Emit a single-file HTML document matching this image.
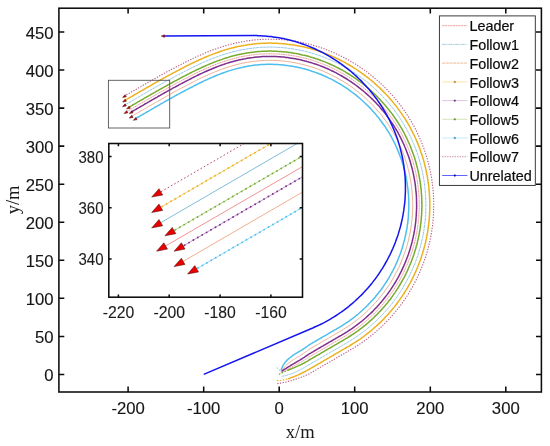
<!DOCTYPE html>
<html lang="en"><head><meta charset="utf-8"><title>Formation trajectories</title>
<style>html,body{margin:0;padding:0;background:#fff}svg{display:block}</style></head>
<body>
<svg width="550" height="446" viewBox="0 0 550 446">
<rect width="550" height="446" fill="#fff"/>
<g fill="none" stroke-linejoin="round" stroke-linecap="butt">
<path d="M280.6,373.0 L281.3,372.6 L282.0,372.2 L282.7,371.8 L283.4,371.4 L284.1,371.0 L284.8,370.7 L285.5,370.3 L286.2,369.9 L286.9,369.6 L287.6,369.2 L288.3,368.8 L289.0,368.4 L289.7,368.1 L290.4,367.7 L291.1,367.3 L291.8,367.0 L292.5,366.6 L293.2,366.2 L293.9,365.9 L294.6,365.5 L295.3,365.1 L296.0,364.7 L296.7,364.4 L297.4,364.0 L298.1,363.6 L298.8,363.2 L299.5,362.8 L300.2,362.5 L300.9,362.1 L301.6,361.7 L302.2,361.3 L302.9,360.9 L303.6,360.5 L304.3,360.1 L305.0,359.6 L305.6,359.2 L306.3,358.8 L307.0,358.4 L307.7,357.9 L308.7,357.2 L309.8,356.6 L310.9,356.0 L312.0,355.3 L313.1,354.7 L314.2,354.1 L315.3,353.4 L316.4,352.8 L317.5,352.1 L318.6,351.5 L319.6,350.9 L320.7,350.2 L321.8,349.6 L322.9,349.0 L324.0,348.3 L325.1,347.7 L326.2,347.1 L327.3,346.4 L328.4,345.8 L329.5,345.2 L330.6,344.5 L331.7,343.9 L332.8,343.2 L333.9,342.6 L335.0,342.0 L336.0,341.3 L337.1,340.7 L338.2,340.1 L339.3,339.4 L340.4,338.8 L341.5,338.2 L342.6,337.5 L343.7,336.9 L345.4,335.9 L347.1,334.8 L348.8,333.8 L350.5,332.7 L352.1,331.6 L353.8,330.5 L355.4,329.3 L357.0,328.2 L358.6,327.0 L360.2,325.8 L361.8,324.5 L363.3,323.3 L364.8,322.0 L366.4,320.7 L367.9,319.4 L369.3,318.1 L370.8,316.7 L372.3,315.4 L373.7,314.0 L375.1,312.6 L376.5,311.2 L377.9,309.7 L379.2,308.3 L380.6,306.8 L381.9,305.3 L383.2,303.8 L384.4,302.2 L385.7,300.7 L386.9,299.1 L388.2,297.5 L389.4,295.9 L390.5,294.3 L391.7,292.7 L392.8,291.1 L393.9,289.4 L395.0,287.7 L396.1,286.0 L397.1,284.3 L398.2,282.6 L399.2,280.9 L400.1,279.2 L401.1,277.4 L402.0,275.6 L402.9,273.9 L403.8,272.1 L404.7,270.3 L405.5,268.5 L406.3,266.6 L407.1,264.8 L407.9,262.9 L408.6,261.1 L409.3,259.2 L410.0,257.4 L410.7,255.5 L411.4,253.6 L412.0,251.7 L412.6,249.8 L413.1,247.9 L413.7,245.9 L414.2,244.0 L414.7,242.1 L415.2,240.1 L415.6,238.2 L416.0,236.2 L416.4,234.3 L416.8,232.3 L417.1,230.3 L417.5,228.3 L417.7,226.4 L418.0,224.4 L418.2,222.4 L418.5,220.4 L418.6,218.4 L418.8,216.4 L418.9,214.4 L419.0,212.4 L419.1,210.4 L419.2,208.4 L419.2,206.4 L419.2,204.4 L419.2,202.4 L419.2,200.4 L419.1,198.4 L419.0,196.4 L418.9,194.4 L418.7,192.4 L418.5,190.4 L418.3,188.5 L418.1,186.5 L417.8,184.5 L417.6,182.5 L417.2,180.5 L416.9,178.6 L416.6,176.6 L416.2,174.6 L415.8,172.7 L415.3,170.7 L414.9,168.8 L414.4,166.8 L413.9,164.9 L413.3,163.0 L412.8,161.1 L412.2,159.2 L411.6,157.2 L410.9,155.4 L410.2,153.5 L409.6,151.6 L408.8,149.7 L408.1,147.9 L407.3,146.0 L406.5,144.2 L405.7,142.4 L404.9,140.6 L404.0,138.8 L403.1,137.0 L402.2,135.2 L401.3,133.4 L400.3,131.7 L399.4,129.9 L398.4,128.2 L397.3,126.5 L396.3,124.8 L395.2,123.1 L394.1,121.5 L393.0,119.8 L391.9,118.2 L390.7,116.6 L389.5,115.0 L388.3,113.4 L387.1,111.8 L385.9,110.2 L384.6,108.7 L383.3,107.2 L382.0,105.7 L380.7,104.2 L379.4,102.7 L378.0,101.3 L376.6,99.8 L375.2,98.4 L373.8,97.0 L372.4,95.6 L370.9,94.3 L369.5,92.9 L368.0,91.6 L366.5,90.3 L365.0,89.0 L363.5,87.8 L361.9,86.5 L360.3,85.3 L358.8,84.1 L357.2,82.9 L355.6,81.8 L353.9,80.6 L352.3,79.5 L350.7,78.4 L349.0,77.3 L347.3,76.3 L345.6,75.2 L343.9,74.2 L342.2,73.2 L340.5,72.3 L338.7,71.3 L337.0,70.4 L335.2,69.5 L333.5,68.6 L331.7,67.8 L329.9,66.9 L328.1,66.1 L326.2,65.4 L324.4,64.6 L322.6,63.9 L320.7,63.2 L318.9,62.5 L317.0,61.8 L315.1,61.2 L313.3,60.6 L311.4,60.0 L309.5,59.4 L307.6,58.9 L305.7,58.4 L303.7,57.9 L301.8,57.5 L299.9,57.0 L297.9,56.6 L296.0,56.2 L294.1,55.9 L292.1,55.6 L290.2,55.3 L288.2,55.0 L286.2,54.8 L284.3,54.5 L282.3,54.3 L280.3,54.2 L278.4,54.1 L276.4,53.9 L274.4,53.9 L272.4,53.8 L270.5,53.8 L268.5,53.8 L266.5,53.8 L264.5,53.9 L262.6,54.0 L260.6,54.1 L258.6,54.3 L256.7,54.4 L254.7,54.6 L252.8,54.9 L250.8,55.1 L248.9,55.4 L246.9,55.7 L245.0,56.1 L243.0,56.4 L241.1,56.8 L239.2,57.2 L237.3,57.7 L235.4,58.2 L233.5,58.7 L231.6,59.2 L229.7,59.7 L227.8,60.3 L225.9,60.9 L224.0,61.5 L222.2,62.1 L220.3,62.7 L218.5,63.4 L216.6,64.1 L214.8,64.8 L213.0,65.5 L211.2,66.3 L209.4,67.1 L207.6,67.8 L205.8,68.6 L204.0,69.4 L202.2,70.2 L200.4,71.1 L198.6,71.9 L196.9,72.7 L195.1,73.6 L193.3,74.5 L192.2,75.1 L191.0,75.7 L189.8,76.3 L188.7,76.9 L187.5,77.5 L186.3,78.1 L185.2,78.7 L184.0,79.3 L182.9,79.9 L181.7,80.5 L180.5,81.1 L179.4,81.7 L178.2,82.3 L177.1,83.0 L175.9,83.6 L174.8,84.2 L173.6,84.8 L172.5,85.4 L171.3,86.1 L170.2,86.7 L169.1,87.3 L167.9,88.0 L166.8,88.6 L165.6,89.2 L164.5,89.9 L163.3,90.5 L162.2,91.2 L161.1,91.8 L159.9,92.4 L158.8,93.1 L157.7,93.7 L156.5,94.4 L155.4,95.0 L154.3,95.7 L153.1,96.3 L152.0,97.0 L150.9,97.6 L149.7,98.3 L148.6,98.9 L147.5,99.6 L146.3,100.2 L145.2,100.9 L144.1,101.5 L142.9,102.2 L141.8,102.9 L140.7,103.5 L139.6,104.2 L138.4,104.8 L137.3,105.5 L136.2,106.1 L135.0,106.8 L133.9,107.5 L132.8,108.1 L131.7,108.8 L130.5,109.4 L129.4,110.1 L128.3,110.7 L127.1,111.4 L126.0,112.1" stroke="#ec8c8c" stroke-width="0.9" stroke-dasharray="2,0.5"/>
<path d="M281.7,376.3 L282.4,376.2 L283.1,376.1 L283.9,376.0 L284.6,375.8 L285.3,375.7 L286.0,375.5 L286.7,375.3 L287.4,375.1 L288.1,374.9 L288.8,374.7 L289.4,374.5 L290.1,374.2 L290.8,374.0 L291.5,373.8 L292.2,373.5 L292.8,373.2 L293.5,372.9 L294.2,372.7 L294.8,372.4 L295.5,372.1 L296.2,371.8 L296.8,371.5 L297.5,371.1 L298.1,370.8 L298.8,370.5 L299.4,370.2 L300.1,369.8 L300.7,369.5 L301.4,369.1 L302.0,368.8 L302.6,368.4 L303.3,368.1 L303.9,367.7 L304.5,367.4 L305.2,367.0 L305.8,366.7 L306.4,366.3 L307.0,365.9 L307.7,365.6 L308.8,364.9 L309.9,364.3 L310.9,363.7 L312.0,363.0 L313.1,362.4 L314.2,361.8 L315.3,361.1 L316.4,360.5 L317.5,359.9 L318.6,359.2 L319.7,358.6 L320.8,357.9 L321.9,357.3 L323.0,356.7 L324.1,356.0 L325.2,355.4 L326.2,354.8 L327.3,354.1 L328.4,353.5 L329.5,352.9 L330.6,352.2 L331.7,351.6 L332.8,351.0 L333.9,350.3 L335.0,349.7 L336.1,349.0 L337.2,348.4 L338.3,347.8 L339.4,347.1 L340.5,346.5 L341.6,345.9 L342.6,345.2 L343.7,344.6 L344.8,344.0 L345.9,343.3 L347.0,342.7 L348.8,341.6 L350.6,340.6 L352.3,339.4 L354.1,338.3 L355.8,337.2 L357.5,336.0 L359.2,334.8 L360.9,333.6 L362.6,332.3 L364.2,331.1 L365.9,329.8 L367.5,328.5 L369.1,327.2 L370.7,325.8 L372.2,324.5 L373.8,323.1 L375.3,321.7 L376.8,320.2 L378.3,318.8 L379.8,317.3 L381.3,315.8 L382.7,314.3 L384.1,312.8 L385.5,311.2 L386.9,309.7 L388.2,308.1 L389.6,306.5 L390.9,304.9 L392.2,303.3 L393.4,301.6 L394.7,299.9 L395.9,298.3 L397.1,296.6 L398.3,294.8 L399.5,293.1 L400.6,291.4 L401.7,289.6 L402.8,287.8 L403.9,286.0 L404.9,284.2 L405.9,282.4 L406.9,280.6 L407.9,278.7 L408.9,276.9 L409.8,275.0 L410.7,273.1 L411.6,271.2 L412.4,269.3 L413.2,267.4 L414.0,265.5 L414.8,263.6 L415.6,261.6 L416.3,259.7 L417.0,257.7 L417.7,255.7 L418.3,253.7 L418.9,251.7 L419.5,249.7 L420.1,247.7 L420.6,245.7 L421.1,243.7 L421.6,241.7 L422.1,239.6 L422.5,237.6 L423.0,235.5 L423.3,233.5 L423.7,231.4 L424.0,229.4 L424.3,227.3 L424.6,225.2 L424.8,223.2 L425.1,221.1 L425.3,219.0 L425.4,216.9 L425.6,214.8 L425.7,212.8 L425.8,210.7 L425.8,208.6 L425.9,206.5 L425.9,204.4 L425.8,202.3 L425.8,200.2 L425.7,198.1 L425.6,196.1 L425.5,194.0 L425.3,191.9 L425.1,189.8 L424.9,187.7 L424.7,185.7 L424.4,183.6 L424.1,181.5 L423.8,179.5 L423.5,177.4 L423.1,175.3 L422.7,173.3 L422.3,171.2 L421.8,169.2 L421.3,167.2 L420.8,165.2 L420.3,163.1 L419.7,161.1 L419.1,159.1 L418.5,157.1 L417.9,155.1 L417.2,153.2 L416.5,151.2 L415.8,149.2 L415.0,147.3 L414.3,145.4 L413.5,143.4 L412.6,141.5 L411.8,139.6 L410.9,137.7 L410.0,135.8 L409.1,134.0 L408.1,132.1 L407.2,130.3 L406.2,128.4 L405.1,126.6 L404.1,124.8 L403.0,123.0 L401.9,121.3 L400.8,119.5 L399.7,117.8 L398.5,116.1 L397.3,114.3 L396.1,112.7 L394.9,111.0 L393.6,109.3 L392.3,107.7 L391.1,106.1 L389.7,104.4 L388.4,102.9 L387.0,101.3 L385.7,99.7 L384.3,98.2 L382.8,96.7 L381.4,95.2 L380.0,93.7 L378.5,92.2 L377.0,90.8 L375.5,89.4 L373.9,88.0 L372.4,86.6 L370.8,85.2 L369.3,83.9 L367.7,82.6 L366.0,81.3 L364.4,80.0 L362.8,78.8 L361.1,77.5 L359.4,76.3 L357.7,75.1 L356.0,73.9 L354.3,72.8 L352.6,71.7 L350.8,70.6 L349.1,69.5 L347.3,68.4 L345.5,67.4 L343.7,66.4 L341.9,65.4 L340.0,64.4 L338.2,63.5 L336.3,62.6 L334.5,61.7 L332.6,60.8 L330.7,60.0 L328.8,59.2 L326.9,58.4 L325.0,57.6 L323.1,56.9 L321.1,56.2 L319.2,55.5 L317.2,54.8 L315.2,54.2 L313.3,53.6 L311.3,53.0 L309.3,52.4 L307.3,51.9 L305.3,51.4 L303.3,50.9 L301.3,50.5 L299.3,50.1 L297.2,49.7 L295.2,49.3 L293.2,49.0 L291.1,48.6 L289.1,48.4 L287.0,48.1 L285.0,47.9 L282.9,47.7 L280.9,47.5 L278.8,47.4 L276.8,47.3 L274.7,47.2 L272.6,47.1 L270.6,47.1 L268.5,47.1 L266.4,47.1 L264.4,47.2 L262.3,47.3 L260.3,47.4 L258.2,47.6 L256.2,47.8 L254.1,48.0 L252.1,48.2 L250.0,48.5 L248.0,48.8 L246.0,49.1 L243.9,49.5 L241.9,49.8 L239.9,50.2 L237.9,50.7 L235.9,51.1 L233.9,51.6 L231.9,52.1 L229.9,52.7 L228.0,53.2 L226.0,53.8 L224.0,54.4 L222.1,55.1 L220.1,55.7 L218.2,56.4 L216.3,57.1 L214.4,57.8 L212.4,58.6 L210.5,59.3 L208.6,60.1 L206.8,60.9 L204.9,61.7 L203.0,62.5 L201.1,63.4 L199.3,64.2 L197.4,65.1 L195.5,66.0 L193.7,66.9 L191.8,67.8 L190.0,68.7 L188.9,69.3 L187.7,69.9 L186.6,70.4 L185.5,71.0 L184.3,71.6 L183.2,72.2 L182.1,72.8 L181.0,73.4 L179.8,73.9 L178.7,74.5 L177.6,75.1 L176.5,75.7 L175.3,76.3 L174.2,76.9 L173.1,77.5 L172.0,78.1 L170.9,78.7 L169.8,79.3 L168.6,79.9 L167.5,80.5 L166.4,81.2 L165.3,81.8 L164.2,82.4 L163.1,83.0 L162.0,83.6 L160.9,84.2 L159.8,84.9 L158.7,85.5 L157.6,86.1 L156.4,86.7 L155.3,87.4 L154.2,88.0 L153.1,88.6 L152.0,89.2 L150.9,89.9 L149.8,90.5 L148.7,91.1 L147.6,91.8 L146.5,92.4 L145.4,93.0 L144.3,93.7 L143.2,94.3 L142.1,94.9 L141.0,95.6 L139.9,96.2 L138.8,96.9 L137.8,97.5 L136.7,98.1 L135.6,98.8 L134.5,99.4 L133.4,100.0 L132.3,100.7 L131.2,101.3 L130.1,102.0 L129.0,102.6 L127.9,103.2 L126.8,103.9 L125.7,104.5 L124.6,105.2" stroke="#86bfe3" stroke-width="0.9" stroke-dasharray="3,0.5"/>
<path d="M281.1,371.9 L281.5,371.1 L282.0,370.4 L282.5,369.6 L283.0,368.9 L283.5,368.2 L284.1,367.5 L284.6,366.8 L285.2,366.2 L285.8,365.6 L286.5,365.0 L287.1,364.4 L287.8,363.8 L288.5,363.2 L289.2,362.7 L289.9,362.2 L290.6,361.6 L291.3,361.1 L292.0,360.6 L292.8,360.1 L293.5,359.6 L294.3,359.1 L295.0,358.7 L295.8,358.2 L296.6,357.7 L297.3,357.3 L298.1,356.8 L298.9,356.3 L299.6,355.9 L300.4,355.4 L301.2,354.9 L301.9,354.4 L302.7,354.0 L303.4,353.5 L304.2,353.0 L304.9,352.5 L305.6,352.0 L306.4,351.5 L307.1,350.9 L307.7,350.4 L308.7,349.6 L309.8,349.0 L310.9,348.4 L312.0,347.7 L313.1,347.1 L314.2,346.4 L315.3,345.8 L316.4,345.2 L317.5,344.5 L318.6,343.9 L319.7,343.3 L320.8,342.6 L321.8,342.0 L322.9,341.4 L324.0,340.7 L325.1,340.1 L326.2,339.5 L327.3,338.8 L328.4,338.2 L329.5,337.5 L330.6,336.9 L331.7,336.3 L332.8,335.6 L333.9,335.0 L335.0,334.4 L336.1,333.7 L337.1,333.1 L338.2,332.5 L339.3,331.8 L340.4,331.2 L342.1,330.2 L343.7,329.2 L345.3,328.2 L346.9,327.2 L348.5,326.1 L350.1,325.1 L351.6,324.0 L353.2,322.8 L354.7,321.7 L356.2,320.6 L357.7,319.4 L359.2,318.2 L360.7,317.0 L362.1,315.7 L363.5,314.5 L365.0,313.2 L366.4,311.9 L367.8,310.6 L369.1,309.3 L370.5,307.9 L371.8,306.6 L373.1,305.2 L374.4,303.8 L375.7,302.4 L377.0,300.9 L378.2,299.5 L379.4,298.0 L380.6,296.6 L381.8,295.1 L383.0,293.5 L384.1,292.0 L385.2,290.5 L386.3,288.9 L387.4,287.3 L388.5,285.8 L389.5,284.2 L390.6,282.5 L391.6,280.9 L392.5,279.3 L393.5,277.6 L394.4,276.0 L395.3,274.3 L396.2,272.6 L397.1,270.9 L397.9,269.2 L398.8,267.4 L399.6,265.7 L400.4,264.0 L401.1,262.2 L401.8,260.4 L402.6,258.7 L403.2,256.9 L403.9,255.1 L404.5,253.3 L405.2,251.5 L405.8,249.7 L406.3,247.8 L406.9,246.0 L407.4,244.2 L407.9,242.3 L408.4,240.5 L408.8,238.6 L409.2,236.7 L409.6,234.9 L410.0,233.0 L410.4,231.1 L410.7,229.2 L411.0,227.3 L411.3,225.4 L411.5,223.5 L411.8,221.6 L412.0,219.7 L412.1,217.8 L412.3,215.9 L412.4,214.0 L412.5,212.1 L412.6,210.2 L412.7,208.3 L412.7,206.4 L412.7,204.5 L412.7,202.5 L412.6,200.6 L412.6,198.7 L412.5,196.8 L412.3,194.9 L412.2,193.0 L412.0,191.1 L411.8,189.2 L411.6,187.3 L411.4,185.4 L411.1,183.5 L410.8,181.6 L410.5,179.7 L410.1,177.8 L409.8,175.9 L409.4,174.1 L409.0,172.2 L408.5,170.3 L408.0,168.5 L407.6,166.6 L407.0,164.8 L406.5,163.0 L405.9,161.1 L405.4,159.3 L404.7,157.5 L404.1,155.7 L403.4,153.9 L402.8,152.1 L402.1,150.3 L401.3,148.6 L400.6,146.8 L399.8,145.1 L399.0,143.4 L398.2,141.6 L397.3,139.9 L396.4,138.2 L395.5,136.5 L394.6,134.9 L393.7,133.2 L392.7,131.5 L391.7,129.9 L390.7,128.3 L389.7,126.7 L388.7,125.1 L387.6,123.5 L386.5,121.9 L385.4,120.4 L384.3,118.9 L383.1,117.3 L381.9,115.8 L380.8,114.3 L379.6,112.9 L378.3,111.4 L377.1,110.0 L375.8,108.6 L374.5,107.2 L373.2,105.8 L371.9,104.4 L370.6,103.0 L369.2,101.7 L367.9,100.4 L366.5,99.1 L365.1,97.8 L363.7,96.5 L362.2,95.3 L360.8,94.1 L359.3,92.9 L357.8,91.7 L356.3,90.5 L354.8,89.4 L353.3,88.2 L351.8,87.1 L350.2,86.0 L348.7,85.0 L347.1,83.9 L345.5,82.9 L343.9,81.9 L342.3,80.9 L340.6,79.9 L339.0,79.0 L337.3,78.0 L335.7,77.1 L334.0,76.3 L332.3,75.4 L330.6,74.6 L328.9,73.7 L327.2,72.9 L325.5,72.2 L323.7,71.4 L322.0,70.7 L320.2,70.0 L318.4,69.3 L316.7,68.7 L314.9,68.0 L313.1,67.4 L311.3,66.9 L309.5,66.3 L307.7,65.8 L305.8,65.3 L304.0,64.8 L302.2,64.3 L300.3,63.9 L298.5,63.5 L296.6,63.1 L294.8,62.7 L292.9,62.4 L291.1,62.1 L289.2,61.8 L287.3,61.5 L285.4,61.3 L283.6,61.1 L281.7,60.9 L279.8,60.7 L277.9,60.6 L276.0,60.5 L274.1,60.4 L272.3,60.4 L270.4,60.4 L268.5,60.4 L266.6,60.4 L264.7,60.5 L262.8,60.6 L260.9,60.7 L259.1,60.8 L257.2,61.0 L255.3,61.2 L253.4,61.4 L251.6,61.7 L249.7,61.9 L247.8,62.2 L246.0,62.6 L244.1,62.9 L242.3,63.3 L240.4,63.7 L238.6,64.1 L236.8,64.6 L235.0,65.1 L233.2,65.6 L231.3,66.1 L229.6,66.6 L227.8,67.2 L226.0,67.8 L224.2,68.4 L222.4,69.0 L220.7,69.6 L218.9,70.3 L217.2,71.0 L215.4,71.7 L213.7,72.4 L212.0,73.1 L210.2,73.9 L208.5,74.6 L206.8,75.4 L205.1,76.1 L203.4,76.9 L201.7,77.7 L200.0,78.5 L198.3,79.4 L196.6,80.2 L195.5,80.8 L194.3,81.4 L193.2,81.9 L192.1,82.5 L190.9,83.1 L189.8,83.7 L188.7,84.3 L187.6,84.8 L186.4,85.4 L185.3,86.0 L184.2,86.6 L183.1,87.2 L181.9,87.8 L180.8,88.4 L179.7,89.0 L178.6,89.6 L177.5,90.2 L176.4,90.8 L175.2,91.4 L174.1,92.0 L173.0,92.6 L171.9,93.3 L170.8,93.9 L169.7,94.5 L168.6,95.1 L167.5,95.7 L166.4,96.3 L165.3,97.0 L164.2,97.6 L163.1,98.2 L162.0,98.8 L160.9,99.5 L159.8,100.1 L158.7,100.7 L157.6,101.4 L156.5,102.0 L155.4,102.6 L154.3,103.3 L153.2,103.9 L152.1,104.5 L151.0,105.2 L149.9,105.8 L148.8,106.4 L147.7,107.1 L146.6,107.7 L145.5,108.3 L144.4,109.0 L143.3,109.6 L142.2,110.2 L141.1,110.9 L140.0,111.5 L138.9,112.2 L137.8,112.8 L136.7,113.4 L135.6,114.1 L134.5,114.7 L133.4,115.3 L132.3,116.0 L131.2,116.6" stroke="#eaa98a" stroke-width="0.95" stroke-dasharray="none"/>
<path d="M276.7,380.7 L277.5,380.7 L278.4,380.6 L279.2,380.6 L280.1,380.5 L280.9,380.4 L281.7,380.2 L282.6,380.1 L283.4,379.9 L284.2,379.8 L285.0,379.6 L285.8,379.4 L286.6,379.2 L287.4,379.0 L288.2,378.7" stroke="#edb120" stroke-width="1.2" stroke-dasharray="1.6,1.5"/>
<path d="M288.2,378.7 L289.0,378.5 L289.8,378.2 L290.6,377.9 L291.4,377.6 L292.2,377.4 L293.0,377.0 L293.8,376.7 L294.5,376.4 L295.3,376.1 L296.1,375.8 L296.9,375.4 L297.6,375.1 L298.4,374.7 L299.2,374.4 L299.9,374.0 L300.7,373.6 L301.4,373.3 L302.2,372.9 L302.9,372.5 L303.7,372.1 L304.4,371.7 L305.2,371.4 L305.9,371.0 L306.7,370.6 L307.4,370.2 L308.5,369.6 L309.6,369.0 L310.7,368.4 L311.8,367.7 L312.9,367.1 L314.0,366.5 L315.1,365.8 L316.2,365.2 L317.3,364.6 L318.4,363.9 L319.5,363.3 L320.6,362.6 L321.7,362.0 L322.7,361.4 L323.8,360.7 L324.9,360.1 L326.0,359.5 L327.1,358.8 L328.2,358.2 L329.3,357.6 L330.4,356.9 L331.5,356.3 L332.6,355.7 L333.7,355.0 L334.8,354.4 L335.9,353.7 L337.0,353.1 L338.1,352.5 L339.1,351.8 L340.2,351.2 L341.3,350.6 L342.4,349.9 L343.5,349.3 L344.6,348.7 L345.7,348.0 L346.8,347.4 L347.9,346.7 L349.0,346.1 L350.8,345.0 L352.6,343.9 L354.4,342.8 L356.2,341.6 L358.0,340.5 L359.8,339.3 L361.5,338.0 L363.2,336.8 L364.9,335.5 L366.6,334.2 L368.3,332.9 L370.0,331.6 L371.6,330.2 L373.2,328.8 L374.8,327.4 L376.4,326.0 L378.0,324.6 L379.5,323.1 L381.1,321.6 L382.6,320.1 L384.1,318.6 L385.5,317.0 L387.0,315.5 L388.4,313.9 L389.8,312.3 L391.2,310.7 L392.6,309.0 L393.9,307.4 L395.3,305.7 L396.6,304.0 L397.8,302.3 L399.1,300.6 L400.3,298.8 L401.5,297.1 L402.7,295.3 L403.9,293.5 L405.0,291.7 L406.2,289.9 L407.3,288.1 L408.3,286.2 L409.4,284.3 L410.4,282.5 L411.4,280.6 L412.4,278.7 L413.3,276.8 L414.2,274.8 L415.1,272.9 L416.0,270.9 L416.8,269.0 L417.7,267.0 L418.5,265.0 L419.2,263.0 L420.0,261.0 L420.7,259.0 L421.4,257.0 L422.0,254.9 L422.7,252.9 L423.3,250.8 L423.9,248.8 L424.4,246.7 L425.0,244.7 L425.5,242.6 L425.9,240.5 L426.4,238.4 L426.8,236.3 L427.2,234.2 L427.6,232.1 L427.9,230.0 L428.2,227.9 L428.5,225.7 L428.8,223.6 L429.0,221.5 L429.2,219.3 L429.4,217.2 L429.5,215.1 L429.6,212.9 L429.7,210.8 L429.8,208.7 L429.8,206.5 L429.8,204.4 L429.8,202.2 L429.7,200.1 L429.6,198.0 L429.5,195.8 L429.4,193.7 L429.2,191.6 L429.0,189.4 L428.8,187.3 L428.6,185.2 L428.3,183.0 L428.0,180.9 L427.7,178.8 L427.3,176.7 L426.9,174.6 L426.5,172.5 L426.1,170.4 L425.6,168.3 L425.1,166.2 L424.6,164.2 L424.1,162.1 L423.5,160.0 L422.9,158.0 L422.3,155.9 L421.6,153.9 L420.9,151.9 L420.2,149.9 L419.5,147.8 L418.7,145.9 L417.9,143.9 L417.1,141.9 L416.2,139.9 L415.4,138.0 L414.5,136.0 L413.5,134.1 L412.6,132.2 L411.6,130.3 L410.6,128.4 L409.6,126.5 L408.6,124.7 L407.5,122.8 L406.4,121.0 L405.3,119.2 L404.1,117.4 L402.9,115.6 L401.8,113.8 L400.5,112.1 L399.3,110.3 L398.0,108.6 L396.8,106.9 L395.4,105.2 L394.1,103.6 L392.8,101.9 L391.4,100.3 L390.0,98.7 L388.6,97.1 L387.2,95.5 L385.7,94.0 L384.2,92.4 L382.7,90.9 L381.2,89.4 L379.7,87.9 L378.2,86.5 L376.6,85.1 L375.0,83.6 L373.4,82.2 L371.8,80.9 L370.1,79.5 L368.5,78.2 L366.8,76.9 L365.1,75.6 L363.4,74.3 L361.7,73.1 L360.0,71.9 L358.2,70.7 L356.5,69.5 L354.7,68.3 L352.9,67.2 L351.1,66.1 L349.3,65.0 L347.4,64.0 L345.6,62.9 L343.7,61.9 L341.8,60.9 L339.9,60.0 L338.0,59.0 L336.1,58.1 L334.2,57.2 L332.3,56.4 L330.3,55.5 L328.4,54.7 L326.4,53.9 L324.4,53.2 L322.4,52.4 L320.4,51.7 L318.4,51.1 L316.4,50.4 L314.4,49.8 L312.4,49.2 L310.3,48.6 L308.3,48.1 L306.2,47.6 L304.2,47.1 L302.1,46.6 L300.0,46.2 L298.0,45.8 L295.9,45.4 L293.8,45.1 L291.7,44.7 L289.6,44.4 L287.5,44.2 L285.4,43.9 L283.3,43.7 L281.2,43.6 L279.1,43.4 L277.0,43.3 L274.9,43.2 L272.7,43.2 L270.6,43.1 L268.5,43.1 L266.4,43.2 L264.3,43.2 L262.2,43.3 L260.1,43.5 L258.0,43.6 L255.9,43.8 L253.8,44.0 L251.7,44.3 L249.6,44.5 L247.5,44.8 L245.4,45.2 L243.3,45.5 L241.3,45.9 L239.2,46.3 L237.1,46.8 L235.1,47.3 L233.0,47.8 L231.0,48.3 L229.0,48.8 L226.9,49.4 L224.9,50.0 L222.9,50.6 L220.9,51.3 L218.9,52.0 L216.9,52.7 L215.0,53.4 L213.0,54.1 L211.0,54.9 L209.1,55.6 L207.1,56.5 L205.2,57.3 L203.3,58.1 L201.4,59.0 L199.4,59.8 L197.5,60.7 L195.6,61.6 L193.7,62.5 L191.8,63.4 L189.9,64.3 L188.0,65.3 L186.9,65.8 L185.8,66.4 L184.7,67.0 L183.6,67.5 L182.6,68.1 L181.5,68.7 L180.4,69.2 L179.3,69.8 L178.2,70.4 L177.1,70.9 L176.0,71.5 L174.9,72.1 L173.8,72.6 L172.7,73.2 L171.6,73.8 L170.6,74.4 L169.5,75.0 L168.4,75.6 L167.3,76.2 L166.2,76.7 L165.2,77.3 L164.1,77.9 L163.0,78.5 L161.9,79.1 L160.9,79.7 L159.8,80.3 L158.7,80.9 L157.6,81.5 L156.6,82.1 L155.5,82.7 L154.4,83.3 L153.3,83.9 L152.3,84.6 L151.2,85.2 L150.1,85.8 L149.1,86.4 L148.0,87.0 L146.9,87.6 L145.9,88.2 L144.8,88.8 L143.7,89.5 L142.7,90.1 L141.6,90.7 L140.5,91.3 L139.5,91.9 L138.4,92.5 L137.4,93.2 L136.3,93.8 L135.2,94.4 L134.2,95.0 L133.1,95.6 L132.0,96.3 L131.0,96.9 L129.9,97.5 L128.8,98.1 L127.8,98.7 L126.7,99.3 L125.6,100.0 L124.6,100.6" stroke="#edb120" stroke-width="1.5"/>
<path d="M281.6,371.3 L282.3,370.9 L282.9,370.4 L283.6,370.0 L284.2,369.5 L284.9,369.1 L285.5,368.7 L286.2,368.3 L286.8,367.8 L287.5,367.4 L288.2,367.0 L288.8,366.6 L289.5,366.2 L290.2,365.8 L290.8,365.4 L291.5,365.0 L292.2,364.6 L292.9,364.2 L293.5,363.8 L294.2,363.4 L294.9,363.0 L295.6,362.6 L296.2,362.2 L296.9,361.8 L297.6,361.4 L298.3,361.0 L298.9,360.6 L299.6,360.2 L300.3,359.8 L300.9,359.4 L301.6,359.0 L302.3,358.6 L302.9,358.1 L303.6,357.7 L304.2,357.3 L304.9,356.8 L305.5,356.4 L306.2,356.0 L306.8,355.5 L307.5,355.1 L308.5,354.3 L309.6,353.7 L310.7,353.1 L311.8,352.4 L312.9,351.8 L314.0,351.1 L315.1,350.5 L316.2,349.9 L317.3,349.2 L318.3,348.6 L319.4,348.0 L320.5,347.3 L321.6,346.7 L322.7,346.1 L323.8,345.4 L324.9,344.8 L326.0,344.2 L327.1,343.5 L328.2,342.9 L329.3,342.2 L330.4,341.6 L331.5,341.0 L332.6,340.3 L333.6,339.7 L334.7,339.1 L335.8,338.4 L336.9,337.8 L338.0,337.2 L339.1,336.5 L340.2,335.9 L341.3,335.3 L342.4,334.6 L344.1,333.6 L345.7,332.6 L347.4,331.6 L349.0,330.5 L350.7,329.4 L352.3,328.3 L353.9,327.2 L355.5,326.0 L357.0,324.9 L358.6,323.7 L360.1,322.5 L361.7,321.3 L363.2,320.0 L364.7,318.7 L366.1,317.5 L367.6,316.1 L369.0,314.8 L370.5,313.5 L371.9,312.1 L373.3,310.7 L374.6,309.3 L376.0,307.9 L377.3,306.5 L378.6,305.0 L379.9,303.6 L381.2,302.1 L382.4,300.6 L383.7,299.0 L384.9,297.5 L386.1,295.9 L387.3,294.4 L388.4,292.8 L389.6,291.2 L390.7,289.6 L391.8,287.9 L392.8,286.3 L393.9,284.6 L394.9,283.0 L395.9,281.3 L396.9,279.6 L397.9,277.9 L398.8,276.2 L399.7,274.4 L400.6,272.7 L401.5,270.9 L402.3,269.1 L403.1,267.4 L403.9,265.6 L404.7,263.8 L405.5,261.9 L406.2,260.1 L406.9,258.3 L407.6,256.5 L408.3,254.6 L408.9,252.7 L409.5,250.9 L410.1,249.0 L410.6,247.1 L411.2,245.2 L411.7,243.3 L412.2,241.4 L412.6,239.5 L413.1,237.6 L413.5,235.7 L413.9,233.8 L414.2,231.8 L414.6,229.9 L414.9,227.9 L415.2,226.0 L415.4,224.0 L415.7,222.1 L415.9,220.1 L416.0,218.2 L416.2,216.2 L416.3,214.3 L416.4,212.3 L416.5,210.3 L416.6,208.4 L416.6,206.4 L416.6,204.4 L416.6,202.5 L416.5,200.5 L416.5,198.5 L416.4,196.6 L416.3,194.6 L416.1,192.7 L415.9,190.7 L415.7,188.7 L415.5,186.8 L415.3,184.8 L415.0,182.9 L414.7,181.0 L414.3,179.0 L414.0,177.1 L413.6,175.2 L413.2,173.2 L412.8,171.3 L412.3,169.4 L411.9,167.5 L411.3,165.6 L410.8,163.7 L410.3,161.8 L409.7,159.9 L409.1,158.1 L408.5,156.2 L407.8,154.4 L407.1,152.5 L406.4,150.7 L405.7,148.9 L404.9,147.0 L404.2,145.2 L403.4,143.5 L402.5,141.7 L401.7,139.9 L400.8,138.1 L399.9,136.4 L399.0,134.7 L398.1,132.9 L397.1,131.2 L396.1,129.5 L395.1,127.9 L394.1,126.2 L393.0,124.5 L391.9,122.9 L390.8,121.3 L389.7,119.7 L388.6,118.1 L387.4,116.5 L386.2,114.9 L385.0,113.4 L383.8,111.9 L382.6,110.4 L381.3,108.9 L380.0,107.4 L378.8,105.9 L377.4,104.5 L376.1,103.1 L374.7,101.6 L373.4,100.3 L372.0,98.9 L370.6,97.5 L369.2,96.2 L367.7,94.9 L366.3,93.6 L364.8,92.3 L363.3,91.0 L361.8,89.8 L360.3,88.6 L358.7,87.4 L357.2,86.2 L355.6,85.0 L354.1,83.9 L352.5,82.8 L350.9,81.7 L349.2,80.6 L347.6,79.5 L346.0,78.5 L344.3,77.5 L342.6,76.5 L340.9,75.5 L339.2,74.6 L337.5,73.6 L335.8,72.7 L334.1,71.8 L332.3,71.0 L330.6,70.2 L328.8,69.3 L327.0,68.5 L325.2,67.8 L323.4,67.0 L321.6,66.3 L319.8,65.6 L318.0,64.9 L316.2,64.3 L314.3,63.7 L312.5,63.1 L310.6,62.5 L308.8,62.0 L306.9,61.4 L305.0,60.9 L303.1,60.5 L301.2,60.0 L299.3,59.6 L297.4,59.2 L295.5,58.8 L293.6,58.5 L291.7,58.2 L289.8,57.9 L287.8,57.6 L285.9,57.4 L284.0,57.1 L282.1,57.0 L280.1,56.8 L278.2,56.7 L276.2,56.6 L274.3,56.5 L272.4,56.4 L270.4,56.4 L268.5,56.4 L266.5,56.5 L264.6,56.5 L262.7,56.6 L260.7,56.7 L258.8,56.9 L256.9,57.0 L254.9,57.2 L253.0,57.5 L251.1,57.7 L249.2,58.0 L247.3,58.3 L245.4,58.7 L243.5,59.0 L241.6,59.4 L239.7,59.8 L237.8,60.3 L235.9,60.7 L234.1,61.2 L232.2,61.7 L230.3,62.2 L228.5,62.8 L226.6,63.4 L224.8,64.0 L223.0,64.6 L221.2,65.2 L219.4,65.9 L217.5,66.6 L215.8,67.3 L214.0,68.0 L212.2,68.7 L210.4,69.5 L208.6,70.2 L206.9,71.0 L205.1,71.8 L203.3,72.6 L201.6,73.4 L199.8,74.2 L198.1,75.0 L196.4,75.9 L194.6,76.8 L193.5,77.3 L192.4,77.9 L191.3,78.5 L190.2,79.0 L189.1,79.6 L188.1,80.1 L187.0,80.7 L185.9,81.3 L184.8,81.8 L183.7,82.4 L182.6,83.0 L181.5,83.6 L180.4,84.1 L179.3,84.7 L178.3,85.3 L177.2,85.9 L176.1,86.5 L175.0,87.1 L173.9,87.6 L172.8,88.2 L171.8,88.8 L170.7,89.4 L169.6,90.0 L168.5,90.6 L167.5,91.2 L166.4,91.8 L165.3,92.4 L164.2,93.0 L163.2,93.6 L162.1,94.2 L161.0,94.8 L160.0,95.4 L158.9,96.0 L157.8,96.7 L156.8,97.3 L155.7,97.9 L154.6,98.5 L153.6,99.1 L152.5,99.7 L151.4,100.3 L150.4,100.9 L149.3,101.6 L148.2,102.2 L147.2,102.8 L146.1,103.4 L145.0,104.0 L144.0,104.6 L142.9,105.3 L141.9,105.9 L140.8,106.5 L139.7,107.1 L138.7,107.7 L137.6,108.3 L136.5,109.0 L135.5,109.6 L134.4,110.2 L133.3,110.8 L132.3,111.4 L131.2,112.1" stroke="#7e2f8e" stroke-width="1.5"/>
<path d="M278.9,374.5 L279.6,374.1 L280.4,373.7 L281.1,373.4 L281.8,373.0 L282.6,372.6 L283.3,372.3 L284.1,371.9 L284.8,371.6 L285.5,371.3 L286.3,370.9 L287.1,370.6" stroke="#77ac30" stroke-width="1.2" stroke-dasharray="1.6,1.5"/>
<path d="M287.1,370.6 L287.8,370.3 L288.6,370.0 L289.3,369.6 L290.1,369.3 L290.8,369.0 L291.6,368.7 L292.3,368.4 L293.1,368.0 L293.9,367.7 L294.6,367.4 L295.4,367.1 L296.1,366.7 L296.9,366.4 L297.6,366.1 L298.4,365.7 L299.1,365.4 L299.9,365.1 L300.6,364.7 L301.4,364.4 L302.1,364.0 L302.8,363.6 L303.6,363.3 L304.3,362.9 L305.0,362.5 L305.7,362.1 L306.5,361.7 L307.2,361.3 L307.9,360.9 L308.9,360.2 L310.0,359.5 L311.1,358.9 L312.2,358.3 L313.3,357.6 L314.4,357.0 L315.5,356.4 L316.6,355.7 L317.7,355.1 L318.8,354.5 L319.9,353.8 L321.0,353.2 L322.1,352.5 L323.2,351.9 L324.2,351.3 L325.3,350.6 L326.4,350.0 L327.5,349.4 L328.6,348.7 L329.7,348.1 L330.8,347.5 L331.9,346.8 L333.0,346.2 L334.1,345.6 L335.2,344.9 L336.3,344.3 L337.4,343.6 L338.5,343.0 L339.6,342.4 L340.6,341.7 L341.7,341.1 L342.8,340.5 L343.9,339.8 L345.0,339.2 L346.8,338.2 L348.5,337.1 L350.2,336.0 L351.9,334.9 L353.6,333.8 L355.3,332.7 L356.9,331.5 L358.6,330.3 L360.2,329.1 L361.8,327.9 L363.4,326.6 L365.0,325.4 L366.5,324.1 L368.1,322.8 L369.6,321.4 L371.1,320.1 L372.6,318.7 L374.1,317.3 L375.5,315.9 L377.0,314.5 L378.4,313.0 L379.8,311.5 L381.2,310.1 L382.5,308.6 L383.9,307.0 L385.2,305.5 L386.5,303.9 L387.8,302.4 L389.0,300.8 L390.3,299.2 L391.5,297.5 L392.7,295.9 L393.8,294.2 L395.0,292.6 L396.1,290.9 L397.2,289.2 L398.3,287.5 L399.4,285.7 L400.4,284.0 L401.4,282.2 L402.4,280.5 L403.4,278.7 L404.4,276.9 L405.3,275.1 L406.2,273.2 L407.1,271.4 L407.9,269.6 L408.7,267.7 L409.5,265.8 L410.3,264.0 L411.1,262.1 L411.8,260.2 L412.5,258.3 L413.2,256.4 L413.9,254.4 L414.5,252.5 L415.1,250.6 L415.7,248.6 L416.2,246.6 L416.8,244.7 L417.3,242.7 L417.7,240.7 L418.2,238.7 L418.6,236.8 L419.0,234.8 L419.4,232.8 L419.7,230.8 L420.1,228.7 L420.4,226.7 L420.6,224.7 L420.9,222.7 L421.1,220.7 L421.3,218.6 L421.4,216.6 L421.6,214.6 L421.7,212.6 L421.8,210.5 L421.8,208.5 L421.9,206.5 L421.9,204.4 L421.8,202.4 L421.8,200.3 L421.7,198.3 L421.6,196.3 L421.5,194.2 L421.3,192.2 L421.2,190.2 L420.9,188.2 L420.7,186.1 L420.5,184.1 L420.2,182.1 L419.9,180.1 L419.5,178.1 L419.1,176.1 L418.8,174.1 L418.3,172.1 L417.9,170.1 L417.4,168.1 L416.9,166.2 L416.4,164.2 L415.9,162.2 L415.3,160.3 L414.7,158.3 L414.1,156.4 L413.4,154.5 L412.7,152.6 L412.0,150.7 L411.3,148.8 L410.6,146.9 L409.8,145.0 L409.0,143.1 L408.1,141.3 L407.3,139.4 L406.4,137.6 L405.5,135.8 L404.6,134.0 L403.6,132.2 L402.7,130.4 L401.7,128.6 L400.6,126.9 L399.6,125.1 L398.5,123.4 L397.4,121.7 L396.3,120.0 L395.2,118.3 L394.0,116.7 L392.9,115.0 L391.7,113.4 L390.4,111.8 L389.2,110.2 L387.9,108.6 L386.6,107.0 L385.3,105.5 L384.0,103.9 L382.7,102.4 L381.3,100.9 L379.9,99.4 L378.5,98.0 L377.1,96.5 L375.7,95.1 L374.2,93.7 L372.7,92.3 L371.3,91.0 L369.7,89.6 L368.2,88.3 L366.7,87.0 L365.1,85.7 L363.6,84.4 L362.0,83.2 L360.4,82.0 L358.7,80.8 L357.1,79.6 L355.5,78.4 L353.8,77.3 L352.1,76.2 L350.4,75.1 L348.7,74.0 L347.0,73.0 L345.3,71.9 L343.5,70.9 L341.8,69.9 L340.0,69.0 L338.2,68.0 L336.4,67.1 L334.6,66.2 L332.8,65.4 L331.0,64.5 L329.1,63.7 L327.3,62.9 L325.4,62.1 L323.5,61.4 L321.7,60.7 L319.8,60.0 L317.9,59.3 L316.0,58.7 L314.0,58.0 L312.1,57.4 L310.2,56.9 L308.3,56.3 L306.3,55.8 L304.4,55.3 L302.4,54.9 L300.4,54.4 L298.5,54.0 L296.5,53.6 L294.5,53.3 L292.5,52.9 L290.5,52.6 L288.5,52.4 L286.6,52.1 L284.6,51.9 L282.6,51.7 L280.5,51.5 L278.5,51.4 L276.5,51.3 L274.5,51.2 L272.5,51.2 L270.5,51.1 L268.5,51.1 L266.5,51.2 L264.5,51.2 L262.5,51.3 L260.5,51.4 L258.5,51.6 L256.5,51.8 L254.5,52.0 L252.5,52.2 L250.5,52.5 L248.5,52.8 L246.5,53.1 L244.6,53.4 L242.6,53.8 L240.6,54.2 L238.7,54.6 L236.7,55.1 L234.8,55.6 L232.8,56.1 L230.9,56.6 L229.0,57.1 L227.1,57.7 L225.2,58.3 L223.3,58.9 L221.4,59.6 L219.5,60.2 L217.6,60.9 L215.7,61.6 L213.9,62.3 L212.0,63.1 L210.2,63.8 L208.3,64.6 L206.5,65.4 L204.7,66.2 L202.8,67.0 L201.0,67.8 L199.2,68.7 L197.4,69.5 L195.6,70.4 L193.8,71.3 L192.0,72.2 L190.9,72.8 L189.8,73.3 L188.7,73.9 L187.6,74.4 L186.5,75.0 L185.4,75.6 L184.3,76.1 L183.2,76.7 L182.1,77.3 L181.0,77.8 L180.0,78.4 L178.9,79.0 L177.8,79.6 L176.7,80.2 L175.6,80.7 L174.5,81.3 L173.4,81.9 L172.4,82.5 L171.3,83.1 L170.2,83.7 L169.1,84.3 L168.0,84.9 L167.0,85.5 L165.9,86.1 L164.8,86.6 L163.7,87.3 L162.7,87.9 L161.6,88.5 L160.5,89.1 L159.4,89.7 L158.4,90.3 L157.3,90.9 L156.2,91.5 L155.2,92.1 L154.1,92.7 L153.0,93.3 L152.0,93.9 L150.9,94.5 L149.8,95.2 L148.7,95.8 L147.7,96.4 L146.6,97.0 L145.6,97.6 L144.5,98.2 L143.4,98.9 L142.4,99.5 L141.3,100.1 L140.2,100.7 L139.2,101.3 L138.1,101.9 L137.0,102.6 L136.0,103.2 L134.9,103.8 L133.8,104.4 L132.8,105.0 L131.7,105.7 L130.6,106.3 L129.6,106.9 L128.5,107.5" stroke="#77ac30" stroke-width="1.5"/>
<path d="M276.7,367.5 L279.0,369.6 L280.9,371.3 L281.2,370.3" stroke="#4dbeee" stroke-width="0.9" stroke-dasharray="1.6,1.5"/>
<path d="M281.2,370.3 L281.4,369.3 L281.7,368.4 L282.1,367.5 L282.5,366.6 L282.9,365.8 L283.3,364.9 L283.8,364.1 L284.4,363.4 L284.9,362.6 L285.5,361.9 L286.1,361.2 L286.7,360.6 L287.4,359.9 L288.1,359.3 L288.8,358.6 L289.5,358.0 L290.2,357.5 L291.0,356.9 L291.7,356.3 L292.5,355.8 L293.3,355.2 L294.1,354.7 L294.9,354.2 L295.7,353.7 L296.5,353.1 L297.4,352.6 L298.2,352.1 L299.0,351.6 L299.9,351.1 L300.7,350.6 L301.5,350.1 L302.3,349.6 L303.1,349.1 L303.9,348.6 L304.7,348.1 L305.5,347.5 L306.3,347.0 L307.0,346.5 L309.0,345.0 L310.1,344.3 L311.2,343.7 L312.2,343.1 L313.3,342.4 L314.4,341.8 L315.5,341.1 L316.6,340.5 L317.7,339.9 L318.8,339.2 L319.9,338.6 L321.0,338.0 L322.1,337.3 L323.2,336.7 L324.3,336.1 L325.4,335.4 L326.5,334.8 L327.6,334.2 L328.6,333.5 L329.7,332.9 L330.8,332.2 L331.9,331.6 L333.0,331.0 L334.1,330.3 L335.2,329.7 L336.3,329.1 L337.4,328.4 L338.5,327.8 L340.1,326.9 L341.7,325.9 L343.2,324.9 L344.8,323.9 L346.3,322.9 L347.9,321.8 L349.4,320.8 L350.9,319.7 L352.4,318.6 L353.8,317.5 L355.3,316.3 L356.7,315.1 L358.2,314.0 L359.6,312.8 L361.0,311.5 L362.4,310.3 L363.7,309.0 L365.1,307.8 L366.4,306.5 L367.7,305.2 L369.0,303.8 L370.3,302.5 L371.6,301.1 L372.8,299.8 L374.0,298.4 L375.2,297.0 L376.4,295.5 L377.6,294.1 L378.7,292.6 L379.9,291.2 L381.0,289.7 L382.1,288.2 L383.2,286.7 L384.2,285.1 L385.2,283.6 L386.3,282.0 L387.3,280.5 L388.2,278.9 L389.2,277.3 L390.1,275.7 L391.0,274.0 L391.9,272.4 L392.8,270.8 L393.6,269.1 L394.5,267.4 L395.3,265.8 L396.0,264.1 L396.8,262.4 L397.5,260.7 L398.2,259.0 L398.9,257.2 L399.6,255.5 L400.3,253.7 L400.9,252.0 L401.5,250.2 L402.1,248.5 L402.6,246.7 L403.1,244.9 L403.6,243.1 L404.1,241.3 L404.6,239.5 L405.0,237.7 L405.4,235.9 L405.8,234.1 L406.2,232.2 L406.5,230.4 L406.9,228.6 L407.2,226.7 L407.4,224.9 L407.7,223.1 L407.9,221.2 L408.1,219.3 L408.3,217.5 L408.4,215.6 L408.5,213.8 L408.6,211.9 L408.7,210.1 L408.8,208.2 L408.8,206.3 L408.8,204.5 L408.8,202.6 L408.7,200.8 L408.7,198.9 L408.6,197.0 L408.5,195.2 L408.3,193.3 L408.1,191.5 L408.0,189.6 L407.7,187.8 L407.5,185.9 L407.2,184.1 L407.0,182.2 L406.6,180.4 L406.3,178.6 L406.0,176.7 L405.6,174.9 L405.2,173.1 L404.7,171.3 L404.3,169.5 L403.8,167.7 L403.3,165.9 L402.8,164.1 L402.2,162.3 L401.7,160.6 L401.1,158.8 L400.4,157.0 L399.8,155.3 L399.1,153.6 L398.4,151.8 L397.7,150.1 L397.0,148.4 L396.2,146.7 L395.5,145.0 L394.7,143.3 L393.8,141.7 L393.0,140.0 L392.1,138.4 L391.2,136.7 L390.3,135.1 L389.4,133.5 L388.4,131.9 L387.4,130.4 L386.4,128.8 L385.4,127.2 L384.4,125.7 L383.3,124.2 L382.2,122.7 L381.1,121.2 L380.0,119.7 L378.9,118.2 L377.7,116.8 L376.5,115.4 L375.4,113.9 L374.1,112.5 L372.9,111.2 L371.7,109.8 L370.4,108.4 L369.1,107.1 L367.8,105.8 L366.5,104.5 L365.2,103.2 L363.8,102.0 L362.5,100.7 L361.1,99.5 L359.7,98.3 L358.3,97.1 L356.9,95.9 L355.4,94.7 L354.0,93.6 L352.5,92.5 L351.0,91.4 L349.5,90.3 L348.0,89.2 L346.5,88.2 L344.9,87.2 L343.4,86.2 L341.8,85.2 L340.3,84.2 L338.7,83.3 L337.1,82.4 L335.5,81.5 L333.9,80.6 L332.2,79.7 L330.6,78.9 L328.9,78.1 L327.3,77.3 L325.6,76.5 L323.9,75.8 L322.2,75.0 L320.5,74.3 L318.8,73.7 L317.1,73.0 L315.4,72.4 L313.6,71.7 L311.9,71.2 L310.1,70.6 L308.4,70.0 L306.6,69.5 L304.8,69.0 L303.1,68.6 L301.3,68.1 L299.5,67.7 L297.7,67.3 L295.9,66.9 L294.1,66.6 L292.3,66.2 L290.4,65.9 L288.6,65.7 L286.8,65.4 L285.0,65.2 L283.2,65.0 L281.3,64.8 L279.5,64.7 L277.7,64.5 L275.8,64.4 L274.0,64.4 L272.1,64.3 L270.3,64.3 L268.5,64.3 L266.6,64.3 L264.8,64.4 L263.0,64.5 L261.1,64.6 L259.3,64.7 L257.5,64.9 L255.6,65.1 L253.8,65.3 L252.0,65.6 L250.2,65.8 L248.4,66.1 L246.6,66.4 L244.8,66.8 L243.0,67.2 L241.2,67.5 L239.4,68.0 L237.6,68.4 L235.9,68.9 L234.1,69.4 L232.4,69.9 L230.6,70.4 L228.9,70.9 L227.1,71.5 L225.4,72.1 L223.7,72.7 L222.0,73.3 L220.2,74.0 L218.5,74.6 L216.9,75.3 L215.2,76.0 L213.5,76.7 L211.8,77.4 L210.1,78.2 L208.5,78.9 L206.8,79.7 L205.1,80.4 L203.5,81.2 L201.8,82.0 L200.2,82.8 L198.5,83.6 L197.4,84.2 L196.3,84.7 L195.3,85.3 L194.2,85.8 L193.1,86.4 L192.0,87.0 L190.9,87.5 L189.8,88.1 L188.7,88.7 L187.6,89.2 L186.5,89.8 L185.4,90.4 L184.4,91.0 L183.3,91.5 L182.2,92.1 L181.1,92.7 L180.0,93.3 L178.9,93.9 L177.9,94.4 L176.8,95.0 L175.7,95.6 L174.6,96.2 L173.6,96.8 L172.5,97.4 L171.4,98.0 L170.3,98.6 L169.3,99.2 L168.2,99.8 L167.1,100.4 L166.1,101.0 L165.0,101.6 L163.9,102.2 L162.9,102.8 L161.8,103.4 L160.7,104.0 L159.7,104.7 L158.6,105.3 L157.5,105.9 L156.5,106.5 L155.4,107.1 L154.3,107.7 L153.3,108.3 L152.2,108.9 L151.1,109.6 L150.1,110.2 L149.0,110.8 L148.0,111.4 L146.9,112.0 L145.8,112.6 L144.8,113.3 L143.7,113.9 L142.7,114.5 L141.6,115.1 L140.5,115.7 L139.5,116.4 L138.4,117.0 L137.3,117.6 L136.3,118.2 L135.2,118.8" stroke="#4dbeee" stroke-width="1.5"/>
<path d="M277.3,383.6 L278.1,383.5 L278.9,383.3 L279.7,383.2 L280.5,383.1 L281.3,383.0 L282.1,382.8 L282.8,382.7 L283.6,382.5 L284.4,382.4 L285.2,382.2 L286.0,382.0 L286.7,381.8 L287.5,381.6 L288.3,381.4 L289.1,381.2 L289.8,381.0 L290.6,380.8 L291.4,380.5 L292.1,380.3 L292.9,380.1 L293.7,379.8 L294.4,379.6 L295.2,379.3 L296.0,379.1 L296.7,378.8 L297.5,378.6 L298.2,378.3 L299.0,378.0 L299.7,377.7 L300.5,377.5 L301.2,377.2 L302.0,376.9 L302.7,376.6 L303.5,376.3 L304.2,376.0 L305.0,375.7 L305.7,375.4 L306.4,375.1 L307.2,374.8 L308.3,374.3 L309.4,373.7 L310.5,373.1 L311.6,372.4 L312.7,371.8 L313.8,371.2 L314.9,370.5 L316.0,369.9 L317.1,369.2 L318.2,368.6 L319.2,368.0 L320.3,367.3 L321.4,366.7 L322.5,366.1 L323.6,365.4 L324.7,364.8 L325.8,364.2 L326.9,363.5 L328.0,362.9 L329.1,362.3 L330.2,361.6 L331.3,361.0 L332.4,360.3 L333.5,359.7 L334.5,359.1 L335.6,358.4 L336.7,357.8 L337.8,357.2 L338.9,356.5 L340.0,355.9 L341.1,355.3 L342.2,354.6 L343.3,354.0 L344.4,353.4 L345.5,352.7 L346.6,352.1 L347.7,351.4 L348.8,350.8 L349.9,350.2 L350.9,349.5 L352.8,348.4 L354.7,347.3 L356.5,346.1 L358.4,345.0 L360.2,343.8 L362.0,342.5 L363.8,341.3 L365.5,340.0 L367.3,338.7 L369.0,337.4 L370.7,336.0 L372.4,334.6 L374.1,333.3 L375.8,331.8 L377.4,330.4 L379.1,328.9 L380.7,327.5 L382.2,326.0 L383.8,324.4 L385.4,322.9 L386.9,321.3 L388.4,319.8 L389.9,318.2 L391.3,316.5 L392.8,314.9 L394.2,313.2 L395.6,311.6 L397.0,309.9 L398.3,308.1 L399.7,306.4 L401.0,304.7 L402.3,302.9 L403.5,301.1 L404.8,299.3 L406.0,297.5 L407.2,295.7 L408.4,293.8 L409.5,291.9 L410.6,290.1 L411.7,288.2 L412.8,286.3 L413.8,284.3 L414.9,282.4 L415.9,280.5 L416.8,278.5 L417.8,276.5 L418.7,274.5 L419.6,272.5 L420.5,270.5 L421.3,268.5 L422.1,266.5 L422.9,264.4 L423.7,262.4 L424.4,260.3 L425.1,258.2 L425.8,256.1 L426.4,254.1 L427.1,252.0 L427.7,249.9 L428.2,247.7 L428.8,245.6 L429.3,243.5 L429.8,241.3 L430.2,239.2 L430.7,237.1 L431.1,234.9 L431.4,232.7 L431.8,230.6 L432.1,228.4 L432.4,226.2 L432.7,224.1 L432.9,221.9 L433.1,219.7 L433.3,217.5 L433.4,215.3 L433.5,213.1 L433.6,210.9 L433.7,208.7 L433.7,206.6 L433.7,204.4 L433.7,202.2 L433.6,200.0 L433.6,197.8 L433.5,195.6 L433.3,193.4 L433.2,191.2 L433.0,189.0 L432.7,186.9 L432.5,184.7 L432.2,182.5 L431.9,180.3 L431.6,178.2 L431.2,176.0 L430.8,173.9 L430.4,171.7 L429.9,169.6 L429.4,167.4 L428.9,165.3 L428.4,163.2 L427.8,161.0 L427.3,158.9 L426.6,156.8 L426.0,154.7 L425.3,152.7 L424.6,150.6 L423.9,148.5 L423.1,146.5 L422.4,144.4 L421.5,142.4 L420.7,140.4 L419.8,138.3 L418.9,136.3 L418.0,134.4 L417.1,132.4 L416.1,130.4 L415.1,128.5 L414.1,126.5 L413.0,124.6 L412.0,122.7 L410.9,120.8 L409.7,119.0 L408.6,117.1 L407.4,115.3 L406.2,113.4 L405.0,111.6 L403.8,109.8 L402.5,108.0 L401.2,106.3 L399.9,104.5 L398.5,102.8 L397.2,101.1 L395.8,99.4 L394.4,97.8 L393.0,96.1 L391.5,94.5 L390.1,92.9 L388.6,91.3 L387.1,89.7 L385.5,88.1 L384.0,86.6 L382.4,85.1 L380.8,83.6 L379.2,82.1 L377.6,80.7 L376.0,79.3 L374.3,77.8 L372.6,76.5 L370.9,75.1 L369.2,73.8 L367.5,72.4 L365.8,71.1 L364.0,69.9 L362.2,68.6 L360.4,67.4 L358.6,66.2 L356.8,65.0 L355.0,63.8 L353.1,62.7 L351.2,61.6 L349.4,60.5 L347.5,59.5 L345.6,58.4 L343.6,57.4 L341.7,56.4 L339.8,55.5 L337.8,54.5 L335.8,53.6 L333.8,52.7 L331.8,51.9 L329.8,51.1 L327.8,50.2 L325.8,49.5 L323.8,48.7 L321.7,48.0 L319.7,47.3 L317.6,46.6 L315.5,46.0 L313.4,45.4 L311.4,44.8 L309.3,44.2 L307.2,43.7 L305.1,43.2 L302.9,42.7 L300.8,42.3 L298.7,41.9 L296.6,41.5 L294.4,41.1 L292.3,40.8 L290.1,40.5 L288.0,40.3 L285.8,40.0 L283.7,39.8 L281.5,39.6 L279.3,39.5 L277.2,39.4 L275.0,39.3 L272.9,39.2 L270.7,39.2 L268.5,39.2 L266.4,39.2 L264.2,39.3 L262.0,39.4 L259.9,39.5 L257.7,39.7 L255.6,39.9 L253.4,40.1 L251.3,40.3 L249.1,40.6 L247.0,40.9 L244.8,41.3 L242.7,41.6 L240.6,42.0 L238.5,42.5 L236.4,42.9 L234.3,43.4 L232.2,43.9 L230.1,44.4 L228.0,45.0 L225.9,45.6 L223.9,46.2 L221.8,46.8 L219.8,47.5 L217.7,48.2 L215.7,48.9 L213.7,49.6 L211.6,50.4 L209.6,51.2 L207.6,52.0 L205.6,52.8 L203.7,53.6 L201.7,54.5 L199.7,55.4 L197.7,56.2 L195.8,57.1 L193.8,58.0 L191.9,59.0 L189.9,59.9 L188.0,60.9 L186.1,61.8 L185.0,62.4 L183.9,62.9 L182.9,63.5 L181.8,64.0 L180.8,64.6 L179.7,65.1 L178.6,65.7 L177.6,66.2 L176.5,66.8 L175.5,67.3 L174.4,67.9 L173.4,68.4 L172.3,69.0 L171.2,69.5 L170.2,70.1 L169.1,70.7 L168.1,71.2 L167.0,71.8 L166.0,72.4 L165.0,72.9 L163.9,73.5 L162.9,74.1 L161.8,74.7 L160.8,75.2 L159.7,75.8 L158.7,76.4 L157.6,77.0 L156.6,77.6 L155.6,78.2 L154.5,78.7 L153.5,79.3 L152.5,79.9 L151.4,80.5 L150.4,81.1 L149.3,81.7 L148.3,82.3 L147.3,82.9 L146.2,83.5 L145.2,84.1 L144.2,84.6 L143.1,85.2 L142.1,85.8 L141.1,86.4 L140.0,87.0 L139.0,87.6 L138.0,88.2 L137.0,88.8 L135.9,89.4 L134.9,90.0 L133.9,90.6 L132.8,91.2 L131.8,91.8 L130.8,92.4 L129.7,93.0 L128.7,93.6 L127.7,94.2 L126.6,94.8 L125.6,95.4 L124.6,96.0" stroke="#b85c80" stroke-width="1.1" stroke-dasharray="1.3,1.4"/>
<path d="M203.7,374.4 L313.3,327.7 L315.2,326.8 L317.1,326.0 L319.0,325.1 L320.9,324.2 L322.7,323.3 L324.6,322.3 L326.4,321.3 L328.2,320.3 L330.0,319.3 L331.8,318.2 L333.6,317.1 L335.4,316.0 L337.1,314.9 L338.9,313.7 L340.6,312.5 L342.3,311.3 L344.0,310.1 L345.6,308.8 L347.3,307.6 L348.9,306.3 L350.5,304.9 L352.1,303.6 L353.7,302.2 L355.3,300.8 L356.8,299.4 L358.3,298.0 L359.8,296.5 L361.3,295.1 L362.8,293.6 L364.2,292.1 L365.6,290.5 L367.0,289.0 L368.4,287.4 L369.8,285.8 L371.1,284.2 L372.4,282.6 L373.7,280.9 L375.0,279.3 L376.2,277.6 L377.4,275.9 L378.6,274.2 L379.8,272.4 L380.9,270.7 L382.1,268.9 L383.2,267.1 L384.2,265.4 L385.3,263.5 L386.3,261.7 L387.3,259.9 L388.3,258.0 L389.2,256.2 L390.2,254.3 L391.1,252.4 L391.9,250.5 L392.8,248.6 L393.6,246.7 L394.4,244.7 L395.2,242.8 L395.9,240.8 L396.6,238.8 L397.3,236.9 L398.0,234.9 L398.6,232.9 L399.2,230.9 L399.8,228.9 L400.4,226.8 L400.9,224.8 L401.4,222.8 L401.8,220.7 L402.3,218.7 L402.7,216.6 L403.1,214.6 L403.4,212.5 L403.8,210.4 L404.0,208.4 L404.3,206.3 L404.6,204.2 L404.8,202.1 L405.0,200.0 L405.1,197.9 L405.2,195.8 L405.3,193.7 L405.4,191.7 L405.4,189.6 L405.4,187.5 L405.4,185.4 L405.4,183.3 L405.3,181.2 L405.2,179.1 L405.1,177.0 L404.9,174.9 L404.7,172.8 L404.5,170.7 L404.2,168.7 L404.0,166.6 L403.7,164.5 L403.3,162.4 L403.0,160.4 L402.6,158.3 L402.1,156.3 L401.7,154.2 L401.2,152.2 L400.7,150.2 L400.2,148.1 L399.6,146.1 L399.0,144.1 L398.4,142.1 L397.8,140.1 L397.1,138.1 L396.4,136.2 L395.7,134.2 L394.9,132.3 L394.1,130.3 L393.3,128.4 L392.5,126.5 L391.6,124.6 L390.7,122.7 L389.8,120.8 L388.9,118.9 L387.9,117.1 L386.9,115.2 L385.9,113.4 L384.9,111.6 L383.8,109.8 L382.7,108.0 L381.6,106.3 L380.4,104.5 L379.3,102.8 L378.1,101.1 L376.9,99.4 L375.7,97.7 L374.4,96.1 L373.1,94.4 L371.8,92.8 L370.5,91.2 L369.2,89.6 L367.8,88.0 L366.4,86.4 L365.0,84.9 L363.6,83.4 L362.2,81.9 L360.7,80.4 L359.2,79.0 L357.7,77.5 L356.2,76.1 L354.6,74.7 L353.1,73.4 L351.5,72.0 L349.9,70.7 L348.3,69.4 L346.7,68.1 L345.0,66.8 L343.4,65.6 L341.7,64.3 L340.0,63.1 L338.3,62.0 L336.6,60.8 L334.8,59.7 L333.1,58.6 L331.3,57.5 L329.5,56.4 L327.7,55.4 L325.9,54.4 L324.1,53.4 L322.3,52.4 L320.4,51.5 L318.6,50.6 L316.7,49.7 L314.8,48.8 L312.9,48.0 L311.0,47.2 L309.1,46.4 L307.1,45.6 L305.2,44.9 L303.3,44.2 L301.3,43.5 L299.3,42.9 L297.4,42.2 L295.4,41.6 L293.4,41.1 L291.4,40.5 L289.4,40.0 L287.3,39.5 L285.3,39.1 L283.3,38.6 L281.3,38.2 L279.2,37.8 L277.2,37.5 L275.1,37.2 L273.1,36.9 L271.0,36.6 L268.9,36.4 L266.9,36.2 L264.8,36.0 L262.7,35.9 L260.7,35.8 L258.6,35.7 L256.5,35.6 L254.4,35.6 L162.9,36.1" stroke="#1414f0" stroke-width="1.5"/>
</g>
<polygon points="124.2,113.5 126.6,110.7 127.8,112.8" fill="#e80000" stroke="#401010" stroke-width="0.6"/>
<polygon points="122.7,106.6 125.1,103.8 126.3,105.9" fill="#e80000" stroke="#401010" stroke-width="0.6"/>
<polygon points="129.4,118.1 131.8,115.3 133.0,117.4" fill="#e80000" stroke="#401010" stroke-width="0.6"/>
<polygon points="122.7,102.0 125.1,99.2 126.3,101.3" fill="#e80000" stroke="#401010" stroke-width="0.6"/>
<polygon points="129.4,113.5 131.8,110.7 133.0,112.8" fill="#e80000" stroke="#401010" stroke-width="0.6"/>
<polygon points="126.7,108.9 129.1,106.2 130.3,108.2" fill="#e80000" stroke="#401010" stroke-width="0.6"/>
<polygon points="133.4,120.3 135.8,117.5 137.0,119.6" fill="#e80000" stroke="#401010" stroke-width="0.6"/>
<polygon points="122.7,97.4 125.1,94.7 126.3,96.8" fill="#e80000" stroke="#401010" stroke-width="0.6"/>
<polygon points="161.1,36.1 164.4,34.7 164.4,37.5" fill="#c01010" stroke="#501010" stroke-width="0.4"/>
<rect x="108.4" y="80.3" width="61.3" height="47.7" fill="none" stroke="#555" stroke-width="0.9"/>
<g stroke="#0c0c0c" stroke-width="1.55" fill="none">
<rect x="58.9" y="8.2" width="482.5" height="383.8"/>
<path d="M128.1,392.0 v-5.4 M128.1,8.2 v5.4"/>
<path d="M203.7,392.0 v-5.4 M203.7,8.2 v5.4"/>
<path d="M279.2,392.0 v-5.4 M279.2,8.2 v5.4"/>
<path d="M354.7,392.0 v-5.4 M354.7,8.2 v5.4"/>
<path d="M430.3,392.0 v-5.4 M430.3,8.2 v5.4"/>
<path d="M505.8,392.0 v-5.4 M505.8,8.2 v5.4"/>
<path d="M58.9,374.4 h5.4 M541.4,374.4 h-5.4"/>
<path d="M58.9,336.4 h5.4 M541.4,336.4 h-5.4"/>
<path d="M58.9,298.3 h5.4 M541.4,298.3 h-5.4"/>
<path d="M58.9,260.3 h5.4 M541.4,260.3 h-5.4"/>
<path d="M58.9,222.2 h5.4 M541.4,222.2 h-5.4"/>
<path d="M58.9,184.2 h5.4 M541.4,184.2 h-5.4"/>
<path d="M58.9,146.1 h5.4 M541.4,146.1 h-5.4"/>
<path d="M58.9,108.1 h5.4 M541.4,108.1 h-5.4"/>
<path d="M58.9,70.0 h5.4 M541.4,70.0 h-5.4"/>
<path d="M58.9,32.0 h5.4 M541.4,32.0 h-5.4"/>
</g>
<g font-family="'Liberation Sans', Arial, sans-serif" font-size="15.7" fill="#151515" stroke="#151515" stroke-width="0.12">
<text transform="translate(128.1,414.1) scale(1.065,1)" text-anchor="middle">-200</text>
<text transform="translate(203.7,414.1) scale(1.065,1)" text-anchor="middle">-100</text>
<text transform="translate(279.2,414.1) scale(1.065,1)" text-anchor="middle">0</text>
<text transform="translate(354.7,414.1) scale(1.065,1)" text-anchor="middle">100</text>
<text transform="translate(430.3,414.1) scale(1.065,1)" text-anchor="middle">200</text>
<text transform="translate(505.8,414.1) scale(1.065,1)" text-anchor="middle">300</text>
<text transform="translate(53.6,381.4) scale(1.065,1)" text-anchor="end">0</text>
<text transform="translate(53.6,343.4) scale(1.065,1)" text-anchor="end">50</text>
<text transform="translate(53.6,305.3) scale(1.065,1)" text-anchor="end">100</text>
<text transform="translate(53.6,267.3) scale(1.065,1)" text-anchor="end">150</text>
<text transform="translate(53.6,229.2) scale(1.065,1)" text-anchor="end">200</text>
<text transform="translate(53.6,191.2) scale(1.065,1)" text-anchor="end">250</text>
<text transform="translate(53.6,153.1) scale(1.065,1)" text-anchor="end">300</text>
<text transform="translate(53.6,115.1) scale(1.065,1)" text-anchor="end">350</text>
<text transform="translate(53.6,77.0) scale(1.065,1)" text-anchor="end">400</text>
<text transform="translate(53.6,39.0) scale(1.065,1)" text-anchor="end">450</text>
</g>
<g font-family="'Liberation Serif', 'Times New Roman', serif" font-size="18.6" fill="#1a1a1a">
<text x="300.2" y="437.6" text-anchor="middle">x/m</text>
<text transform="translate(18.6,199.9) rotate(-90)" text-anchor="middle">y/m</text>
</g>
<rect x="108.8" y="143.5" width="193.7" height="153.7" fill="#fff"/>
<clipPath id="ic"><rect x="108.8" y="143.5" width="193.7" height="153.7"/></clipPath>
<g clip-path="url(#ic)" fill="none">
<path d="M162.6,247.7 L307.5,163.7" stroke="#f08080" stroke-width="0.85"/>
<path d="M157.8,224.4 L307.5,137.5" stroke="#6cb0d6" stroke-width="0.85"/>
<path d="M180.2,263.1 L307.5,189.2" stroke="#eea07a" stroke-width="0.85"/>
<path d="M157.8,209.0 L307.5,122.2" stroke="#f2c65a" stroke-width="0.8"/>
<circle cx="162.2" cy="206.4" r="0.95" fill="#edb120" stroke="none"/>
<circle cx="166.6" cy="203.9" r="0.95" fill="#edb120" stroke="none"/>
<circle cx="171.0" cy="201.3" r="0.95" fill="#edb120" stroke="none"/>
<circle cx="175.4" cy="198.7" r="0.95" fill="#edb120" stroke="none"/>
<circle cx="179.9" cy="196.2" r="0.95" fill="#edb120" stroke="none"/>
<circle cx="184.3" cy="193.6" r="0.95" fill="#edb120" stroke="none"/>
<circle cx="188.7" cy="191.1" r="0.95" fill="#edb120" stroke="none"/>
<circle cx="193.1" cy="188.5" r="0.95" fill="#edb120" stroke="none"/>
<circle cx="197.5" cy="186.0" r="0.95" fill="#edb120" stroke="none"/>
<circle cx="201.9" cy="183.4" r="0.95" fill="#edb120" stroke="none"/>
<circle cx="206.3" cy="180.8" r="0.95" fill="#edb120" stroke="none"/>
<circle cx="210.7" cy="178.3" r="0.95" fill="#edb120" stroke="none"/>
<circle cx="215.1" cy="175.7" r="0.95" fill="#edb120" stroke="none"/>
<circle cx="219.6" cy="173.2" r="0.95" fill="#edb120" stroke="none"/>
<circle cx="224.0" cy="170.6" r="0.95" fill="#edb120" stroke="none"/>
<circle cx="228.4" cy="168.0" r="0.95" fill="#edb120" stroke="none"/>
<circle cx="232.8" cy="165.5" r="0.95" fill="#edb120" stroke="none"/>
<circle cx="237.2" cy="162.9" r="0.95" fill="#edb120" stroke="none"/>
<circle cx="241.6" cy="160.4" r="0.95" fill="#edb120" stroke="none"/>
<circle cx="246.0" cy="157.8" r="0.95" fill="#edb120" stroke="none"/>
<circle cx="250.4" cy="155.2" r="0.95" fill="#edb120" stroke="none"/>
<circle cx="254.9" cy="152.7" r="0.95" fill="#edb120" stroke="none"/>
<circle cx="259.3" cy="150.1" r="0.95" fill="#edb120" stroke="none"/>
<circle cx="263.7" cy="147.6" r="0.95" fill="#edb120" stroke="none"/>
<circle cx="268.1" cy="145.0" r="0.95" fill="#edb120" stroke="none"/>
<circle cx="272.5" cy="142.5" r="0.95" fill="#edb120" stroke="none"/>
<circle cx="276.9" cy="139.9" r="0.95" fill="#edb120" stroke="none"/>
<circle cx="281.3" cy="137.3" r="0.95" fill="#edb120" stroke="none"/>
<circle cx="285.7" cy="134.8" r="0.95" fill="#edb120" stroke="none"/>
<circle cx="290.1" cy="132.2" r="0.95" fill="#edb120" stroke="none"/>
<circle cx="294.6" cy="129.7" r="0.95" fill="#edb120" stroke="none"/>
<circle cx="299.0" cy="127.1" r="0.95" fill="#edb120" stroke="none"/>
<circle cx="303.4" cy="124.5" r="0.95" fill="#edb120" stroke="none"/>
<path d="M180.2,247.7 L307.5,173.9" stroke="#b07cbc" stroke-width="0.8"/>
<circle cx="184.6" cy="245.2" r="0.95" fill="#7e2f8e" stroke="none"/>
<circle cx="189.0" cy="242.6" r="0.95" fill="#7e2f8e" stroke="none"/>
<circle cx="193.4" cy="240.0" r="0.95" fill="#7e2f8e" stroke="none"/>
<circle cx="197.8" cy="237.5" r="0.95" fill="#7e2f8e" stroke="none"/>
<circle cx="202.2" cy="234.9" r="0.95" fill="#7e2f8e" stroke="none"/>
<circle cx="206.6" cy="232.4" r="0.95" fill="#7e2f8e" stroke="none"/>
<circle cx="211.0" cy="229.8" r="0.95" fill="#7e2f8e" stroke="none"/>
<circle cx="215.5" cy="227.2" r="0.95" fill="#7e2f8e" stroke="none"/>
<circle cx="219.9" cy="224.7" r="0.95" fill="#7e2f8e" stroke="none"/>
<circle cx="224.3" cy="222.1" r="0.95" fill="#7e2f8e" stroke="none"/>
<circle cx="228.7" cy="219.6" r="0.95" fill="#7e2f8e" stroke="none"/>
<circle cx="233.1" cy="217.0" r="0.95" fill="#7e2f8e" stroke="none"/>
<circle cx="237.5" cy="214.5" r="0.95" fill="#7e2f8e" stroke="none"/>
<circle cx="241.9" cy="211.9" r="0.95" fill="#7e2f8e" stroke="none"/>
<circle cx="246.3" cy="209.3" r="0.95" fill="#7e2f8e" stroke="none"/>
<circle cx="250.7" cy="206.8" r="0.95" fill="#7e2f8e" stroke="none"/>
<circle cx="255.2" cy="204.2" r="0.95" fill="#7e2f8e" stroke="none"/>
<circle cx="259.6" cy="201.7" r="0.95" fill="#7e2f8e" stroke="none"/>
<circle cx="264.0" cy="199.1" r="0.95" fill="#7e2f8e" stroke="none"/>
<circle cx="268.4" cy="196.5" r="0.95" fill="#7e2f8e" stroke="none"/>
<circle cx="272.8" cy="194.0" r="0.95" fill="#7e2f8e" stroke="none"/>
<circle cx="277.2" cy="191.4" r="0.95" fill="#7e2f8e" stroke="none"/>
<circle cx="281.6" cy="188.9" r="0.95" fill="#7e2f8e" stroke="none"/>
<circle cx="286.0" cy="186.3" r="0.95" fill="#7e2f8e" stroke="none"/>
<circle cx="290.5" cy="183.7" r="0.95" fill="#7e2f8e" stroke="none"/>
<circle cx="294.9" cy="181.2" r="0.95" fill="#7e2f8e" stroke="none"/>
<circle cx="299.3" cy="178.6" r="0.95" fill="#7e2f8e" stroke="none"/>
<circle cx="303.7" cy="176.1" r="0.95" fill="#7e2f8e" stroke="none"/>
<path d="M171.0,232.3 L307.5,153.2" stroke="#a2c870" stroke-width="0.8"/>
<circle cx="175.4" cy="229.8" r="0.95" fill="#77ac30" stroke="none"/>
<circle cx="179.8" cy="227.2" r="0.95" fill="#77ac30" stroke="none"/>
<circle cx="184.2" cy="224.6" r="0.95" fill="#77ac30" stroke="none"/>
<circle cx="188.7" cy="222.1" r="0.95" fill="#77ac30" stroke="none"/>
<circle cx="193.1" cy="219.5" r="0.95" fill="#77ac30" stroke="none"/>
<circle cx="197.5" cy="217.0" r="0.95" fill="#77ac30" stroke="none"/>
<circle cx="201.9" cy="214.4" r="0.95" fill="#77ac30" stroke="none"/>
<circle cx="206.3" cy="211.9" r="0.95" fill="#77ac30" stroke="none"/>
<circle cx="210.7" cy="209.3" r="0.95" fill="#77ac30" stroke="none"/>
<circle cx="215.1" cy="206.7" r="0.95" fill="#77ac30" stroke="none"/>
<circle cx="219.5" cy="204.2" r="0.95" fill="#77ac30" stroke="none"/>
<circle cx="224.0" cy="201.6" r="0.95" fill="#77ac30" stroke="none"/>
<circle cx="228.4" cy="199.1" r="0.95" fill="#77ac30" stroke="none"/>
<circle cx="232.8" cy="196.5" r="0.95" fill="#77ac30" stroke="none"/>
<circle cx="237.2" cy="193.9" r="0.95" fill="#77ac30" stroke="none"/>
<circle cx="241.6" cy="191.4" r="0.95" fill="#77ac30" stroke="none"/>
<circle cx="246.0" cy="188.8" r="0.95" fill="#77ac30" stroke="none"/>
<circle cx="250.4" cy="186.3" r="0.95" fill="#77ac30" stroke="none"/>
<circle cx="254.8" cy="183.7" r="0.95" fill="#77ac30" stroke="none"/>
<circle cx="259.2" cy="181.1" r="0.95" fill="#77ac30" stroke="none"/>
<circle cx="263.7" cy="178.6" r="0.95" fill="#77ac30" stroke="none"/>
<circle cx="268.1" cy="176.0" r="0.95" fill="#77ac30" stroke="none"/>
<circle cx="272.5" cy="173.5" r="0.95" fill="#77ac30" stroke="none"/>
<circle cx="276.9" cy="170.9" r="0.95" fill="#77ac30" stroke="none"/>
<circle cx="281.3" cy="168.4" r="0.95" fill="#77ac30" stroke="none"/>
<circle cx="285.7" cy="165.8" r="0.95" fill="#77ac30" stroke="none"/>
<circle cx="290.1" cy="163.2" r="0.95" fill="#77ac30" stroke="none"/>
<circle cx="294.5" cy="160.7" r="0.95" fill="#77ac30" stroke="none"/>
<circle cx="298.9" cy="158.1" r="0.95" fill="#77ac30" stroke="none"/>
<circle cx="303.4" cy="155.6" r="0.95" fill="#77ac30" stroke="none"/>
<path d="M193.6,270.5 L307.5,204.5" stroke="#86d2f2" stroke-width="0.8"/>
<circle cx="198.0" cy="268.0" r="0.95" fill="#4dbeee" stroke="none"/>
<circle cx="202.5" cy="265.4" r="0.95" fill="#4dbeee" stroke="none"/>
<circle cx="206.9" cy="262.9" r="0.95" fill="#4dbeee" stroke="none"/>
<circle cx="211.3" cy="260.3" r="0.95" fill="#4dbeee" stroke="none"/>
<circle cx="215.7" cy="257.7" r="0.95" fill="#4dbeee" stroke="none"/>
<circle cx="220.1" cy="255.2" r="0.95" fill="#4dbeee" stroke="none"/>
<circle cx="224.5" cy="252.6" r="0.95" fill="#4dbeee" stroke="none"/>
<circle cx="228.9" cy="250.1" r="0.95" fill="#4dbeee" stroke="none"/>
<circle cx="233.3" cy="247.5" r="0.95" fill="#4dbeee" stroke="none"/>
<circle cx="237.7" cy="245.0" r="0.95" fill="#4dbeee" stroke="none"/>
<circle cx="242.2" cy="242.4" r="0.95" fill="#4dbeee" stroke="none"/>
<circle cx="246.6" cy="239.8" r="0.95" fill="#4dbeee" stroke="none"/>
<circle cx="251.0" cy="237.3" r="0.95" fill="#4dbeee" stroke="none"/>
<circle cx="255.4" cy="234.7" r="0.95" fill="#4dbeee" stroke="none"/>
<circle cx="259.8" cy="232.2" r="0.95" fill="#4dbeee" stroke="none"/>
<circle cx="264.2" cy="229.6" r="0.95" fill="#4dbeee" stroke="none"/>
<circle cx="268.6" cy="227.0" r="0.95" fill="#4dbeee" stroke="none"/>
<circle cx="273.0" cy="224.5" r="0.95" fill="#4dbeee" stroke="none"/>
<circle cx="277.5" cy="221.9" r="0.95" fill="#4dbeee" stroke="none"/>
<circle cx="281.9" cy="219.4" r="0.95" fill="#4dbeee" stroke="none"/>
<circle cx="286.3" cy="216.8" r="0.95" fill="#4dbeee" stroke="none"/>
<circle cx="290.7" cy="214.2" r="0.95" fill="#4dbeee" stroke="none"/>
<circle cx="295.1" cy="211.7" r="0.95" fill="#4dbeee" stroke="none"/>
<circle cx="299.5" cy="209.1" r="0.95" fill="#4dbeee" stroke="none"/>
<circle cx="303.9" cy="206.6" r="0.95" fill="#4dbeee" stroke="none"/>
<path d="M157.8,193.6 L307.5,106.8" stroke="#b8466a" stroke-width="1.0" stroke-dasharray="1.6,2.2"/>
</g>
<polygon points="156.6,251.2 163.8,242.8 167.5,249.1" fill="#e80000" stroke="#3a0a0a" stroke-width="0.5"/>
<polygon points="151.7,227.9 159.0,219.5 162.7,225.8" fill="#e80000" stroke="#3a0a0a" stroke-width="0.5"/>
<polygon points="174.1,266.6 181.4,258.2 185.0,264.5" fill="#e80000" stroke="#3a0a0a" stroke-width="0.5"/>
<polygon points="151.7,212.5 159.0,204.1 162.7,210.4" fill="#e80000" stroke="#3a0a0a" stroke-width="0.5"/>
<polygon points="174.1,251.2 181.4,242.8 185.0,249.1" fill="#e80000" stroke="#3a0a0a" stroke-width="0.5"/>
<polygon points="164.9,235.8 172.2,227.4 175.9,233.7" fill="#e80000" stroke="#3a0a0a" stroke-width="0.5"/>
<polygon points="187.6,274.0 194.8,265.6 198.5,272.0" fill="#e80000" stroke="#3a0a0a" stroke-width="0.5"/>
<polygon points="151.7,197.1 159.0,188.7 162.7,195.0" fill="#e80000" stroke="#3a0a0a" stroke-width="0.5"/>
<g stroke="#0c0c0c" stroke-width="1.55" fill="none">
<rect x="108.8" y="143.5" width="193.7" height="153.7"/>
<path d="M118.4,297.2 v-2.8 M118.4,143.5 v2.8"/>
<path d="M169.2,297.2 v-2.8 M169.2,143.5 v2.8"/>
<path d="M220.1,297.2 v-2.8 M220.1,143.5 v2.8"/>
<path d="M270.9,297.2 v-2.8 M270.9,143.5 v2.8"/>
<path d="M108.8,259.0 h2.8 M302.5,259.0 h-2.8"/>
<path d="M108.8,207.7 h2.8 M302.5,207.7 h-2.8"/>
<path d="M108.8,156.4 h2.8 M302.5,156.4 h-2.8"/>
</g>
<g font-family="'Liberation Sans', Arial, sans-serif" font-size="15.6" fill="#1c1c1c" stroke="#1c1c1c" stroke-width="0.1">
<text transform="translate(118.4,317.7) scale(1.010,1)" text-anchor="middle">-220</text>
<text transform="translate(169.2,317.7) scale(1.010,1)" text-anchor="middle">-200</text>
<text transform="translate(220.1,317.7) scale(1.010,1)" text-anchor="middle">-180</text>
<text transform="translate(270.9,317.7) scale(1.010,1)" text-anchor="middle">-160</text>
<text transform="translate(103.5,265.3) scale(0.960,1)" text-anchor="end">340</text>
<text transform="translate(103.5,214.0) scale(0.960,1)" text-anchor="end">360</text>
<text transform="translate(103.5,162.7) scale(0.960,1)" text-anchor="end">380</text>
</g>
<rect x="439.4" y="15.9" width="95.9" height="169.5" fill="#fff" stroke="#262626" stroke-width="0.9"/>
<g font-family="'Liberation Sans', Arial, sans-serif" font-size="14.1" fill="#0a0a0a" stroke="#0a0a0a" stroke-width="0.2">
<path d="M442.2,25.7 H467.4" stroke="#ee9090" stroke-width="0.9" fill="none" stroke-dasharray="2,0.7"/>
<text transform="translate(469.4,31.4) scale(1.020,1)" text-anchor="start">Leader</text>
<path d="M442.2,44.4 H467.4" stroke="#8cc6dc" stroke-width="0.8" fill="none" stroke-dasharray="4,0.6,1,0.6"/>
<text transform="translate(469.4,50.1) scale(1.020,1)" text-anchor="start">Follow1</text>
<path d="M442.2,63.1 H467.4" stroke="#eeb090" stroke-width="0.9" fill="none" stroke-dasharray="3,0.6"/>
<text transform="translate(469.4,68.8) scale(1.020,1)" text-anchor="start">Follow2</text>
<path d="M442.2,81.9 H467.4" stroke="#f5dc98" stroke-width="0.8" fill="none"/>
<circle cx="454.8" cy="81.9" r="0.9" fill="#edb120"/>
<text transform="translate(469.4,87.6) scale(1.020,1)" text-anchor="start">Follow3</text>
<path d="M442.2,100.6 H467.4" stroke="#d4b6dc" stroke-width="0.8" fill="none"/>
<circle cx="454.8" cy="100.6" r="0.9" fill="#7e2f8e"/>
<text transform="translate(469.4,106.3) scale(1.020,1)" text-anchor="start">Follow4</text>
<path d="M442.2,119.3 H467.4" stroke="#c8dea8" stroke-width="0.8" fill="none"/>
<circle cx="454.8" cy="119.3" r="0.9" fill="#77ac30"/>
<text transform="translate(469.4,125.0) scale(1.020,1)" text-anchor="start">Follow5</text>
<path d="M442.2,138.0 H467.4" stroke="#b8e4f8" stroke-width="0.8" fill="none"/>
<circle cx="454.8" cy="138.0" r="0.9" fill="#4dbeee"/>
<text transform="translate(469.4,143.7) scale(1.020,1)" text-anchor="start">Follow6</text>
<path d="M442.2,156.7 H467.4" stroke="#c0708c" stroke-width="0.9" fill="none" stroke-dasharray="1.2,1.3"/>
<text transform="translate(469.4,162.4) scale(1.020,1)" text-anchor="start">Follow7</text>
<path d="M442.2,175.5 H467.4" stroke="#5050ff" stroke-width="0.9" fill="none"/>
<circle cx="454.8" cy="175.5" r="0.9" fill="#0000ff"/>
<text transform="translate(469.4,181.2) scale(1.020,1)" text-anchor="start">Unrelated</text>
</g>
</svg>
</body></html>
